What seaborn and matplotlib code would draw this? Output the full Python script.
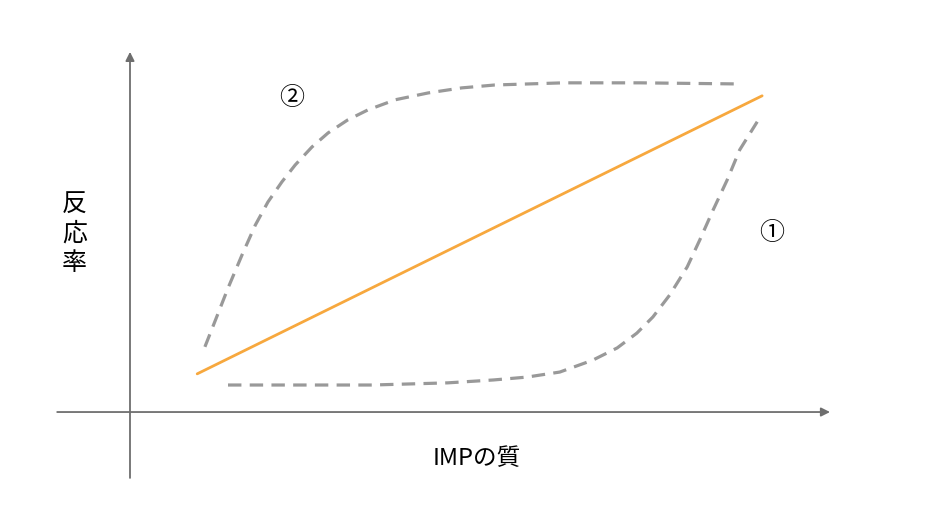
import matplotlib
matplotlib.use("Agg")
import matplotlib.pyplot as plt
import seaborn as sns
import pandas as pd

# Conceptual diagram: origin at the crossing of the two axes, axis tips at 100
# Orange straight line
line_x = [9.6, 90.3]
line_y = [10.6, 87.8]

# Dashed curve (2): rises early, then flattens
curve2_x = [10.7, 12.1, 14.0, 16.0, 17.9, 19.7, 21.7, 23.6, 26.0, 28.3, 31.1, 34.0,
            37.9, 42.6, 47.4, 52.1, 61.9, 72.9, 86.6]
curve2_y = [18.1, 25.0, 34.4, 43.6, 51.9, 58.3, 63.9, 68.6, 73.6, 77.5, 81.1, 83.9,
            86.7, 88.6, 90.0, 90.8, 91.4, 91.4, 91.1]

# Dashed curve (1): flat first, then rises late
curve1_x = [14.0, 23.6, 34.6, 45.4, 51.9, 56.7, 61.4, 66.1, 69.6, 72.4, 74.7, 77.1,
            79.6, 81.4, 83.3, 85.3, 87.1, 89.6]
curve1_y = [7.5, 7.5, 7.5, 8.1, 8.9, 9.7, 11.1, 14.4, 17.8, 21.9, 26.4, 32.5,
            40.3, 47.8, 56.1, 64.4, 72.8, 80.6]

x_label = "IMPの質"
y_label = "反応率"
curve_labels = ["①", "②"]

sns.set_theme(style="white")
plt.rcParams["font.family"] = ["Noto Sans CJK JP", "DejaVu Sans"]

fig = plt.figure(figsize=(9.4, 5.28), dpi=100)
ax = fig.add_axes([0, 0, 1, 1])
ax.set_xlim(-18.57, 115.71)
ax.set_ylim(-32.2, 114.4)
ax.axis("off")

axis_col = "#6e6e6e"
dash_col = "#999999"
orange = "#f7a83e"

# axes with arrow heads
ax.annotate("", xy=(100, 0), xytext=(-10.4, 0),
            arrowprops=dict(arrowstyle="-|>", color=axis_col, lw=1.3, mutation_scale=13,
                            shrinkA=0, shrinkB=0))
ax.annotate("", xy=(0, 100), xytext=(0, -18.3),
            arrowprops=dict(arrowstyle="-|>", color=axis_col, lw=1.3, mutation_scale=13,
                            shrinkA=0, shrinkB=0))

df2 = pd.DataFrame({"x": curve2_x, "y": curve2_y})
df1 = pd.DataFrame({"x": curve1_x, "y": curve1_y})
sns.lineplot(data=df2, x="x", y="y", ax=ax, color=dash_col, lw=2.3,
             linestyle=(0, (4.2, 2.6)), sort=False)
sns.lineplot(data=df1, x="x", y="y", ax=ax, color=dash_col, lw=2.3,
             linestyle=(0, (4.2, 2.6)), sort=False)
sns.lineplot(x=line_x, y=line_y, ax=ax, color=orange, lw=2.0)

ax.text(91.6, 49.7, curve_labels[0], fontsize=18, ha="center", va="center", color="black")
ax.text(23.1, 87.2, curve_labels[1], fontsize=18, ha="center", va="center", color="black")

ax.text(-7.9, 49.5, "\n".join(y_label), fontsize=18, ha="center", va="center",
        linespacing=1.15, color="black")
ax.text(49.6, -12.8, x_label, fontsize=17, ha="center", va="center", color="black")

fig.savefig("out.png", dpi=100, facecolor="white")
